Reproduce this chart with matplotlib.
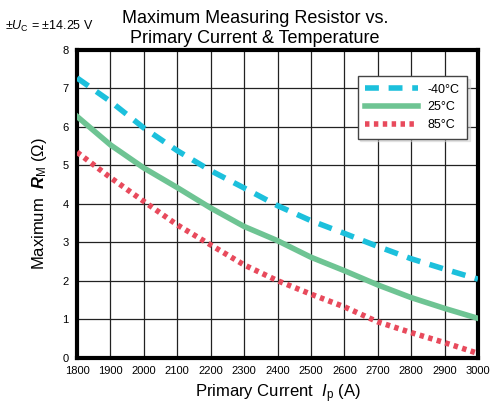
import matplotlib
matplotlib.use("Agg")
import matplotlib.pyplot as plt
import numpy as np

plt.rcParams['font.family'] = ['Liberation Sans', 'DejaVu Sans']
plt.rcParams['mathtext.fontset'] = 'custom'
plt.rcParams['mathtext.rm'] = 'Liberation Sans'
plt.rcParams['mathtext.it'] = 'Liberation Sans:italic'
plt.rcParams['mathtext.bf'] = 'Liberation Sans:bold'
plt.rcParams['mathtext.bfit'] = 'Liberation Sans:italic:bold'

# data
current = [1800, 1900, 2000, 2100, 2200, 2300, 2400, 2500, 2600, 2700, 2800, 2900, 3000]
r_m40 = [7.27, 6.66, 5.97, 5.38, 4.86, 4.41, 3.95, 3.56, 3.23, 2.89, 2.57, 2.30, 2.04]
r_25 = [6.27, 5.53, 4.93, 4.42, 3.89, 3.41, 3.04, 2.61, 2.26, 1.89, 1.56, 1.28, 1.02]
r_85 = [5.34, 4.68, 4.06, 3.45, 2.93, 2.41, 2.00, 1.65, 1.32, 0.93, 0.65, 0.39, 0.11]
labels = ['-40°C', '25°C', '85°C']
xticks = list(range(1800, 3001, 100))
yticks = list(range(0, 9))

fig = plt.figure(figsize=(5, 4.12), dpi=100)
ax = fig.add_axes([0.154, 0.132, 0.802, 0.747])

ax.plot(current, r_m40, color='#1cc0dc', lw=4, ls=(0, (2.5, 1.75)), label=labels[0],
        dash_capstyle='butt', zorder=3)
ax.plot(current, r_25, color='#6ec493', lw=4, label=labels[1], zorder=3)
ax.plot(current, r_85, color='#e84a5c', lw=4, ls=(0, (0.8, 0.8)), label=labels[2],
        dash_capstyle='butt', zorder=3)

ax.set_xlim(1800, 3000)
ax.set_ylim(0, 8)
ax.set_xticks(xticks)
ax.set_yticks(yticks)
ax.tick_params(length=0, labelsize=8, pad=6)
ax.grid(True, color='#222222', lw=0.9)
ax.set_axisbelow(True)
for s in ax.spines.values():
    s.set_linewidth(3)
    s.set_color('black')

ax.set_xlabel(r'Primary Current  $I_\mathrm{p}$ (A)', fontsize=12, labelpad=5)
ax.set_ylabel(r'Maximum  $\mathbfit{R}_\mathrm{M}$ ($\Omega$)', fontsize=12, labelpad=10)

fig.text(0.51, 0.975, 'Maximum Measuring Resistor vs.\nPrimary Current & Temperature',
         ha='center', va='top', fontsize=13, linespacing=1.2)
fig.text(0.01, 0.937, r'$\pm U_\mathrm{C}$ = ±14.25 V', fontsize=9, ha='left', va='center')

leg = ax.legend(loc='upper right', bbox_to_anchor=(0.973, 0.914), borderaxespad=0,
                fontsize=9, frameon=True, fancybox=False,
                shadow={'color': '0.82', 'ox': 2, 'oy': -2},
                handlelength=4.2, borderpad=0.6, labelspacing=0.45)
leg.get_frame().set_edgecolor('#444444')
leg.get_frame().set_linewidth(1)

fig.savefig('out.png', dpi=100)
